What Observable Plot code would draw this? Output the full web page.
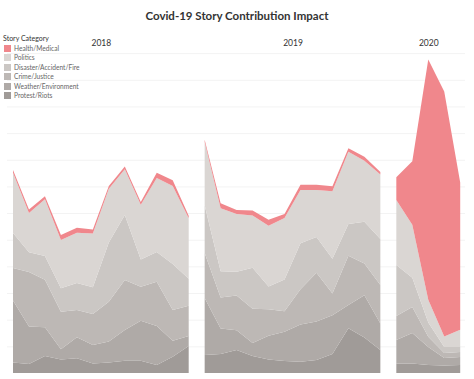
<!DOCTYPE html>
<html>
<head>
<meta charset="utf-8">
<script src="https://cdn.jsdelivr.net/npm/d3@7"></script>
<script src="https://cdn.jsdelivr.net/npm/@observablehq/plot@0.6"></script>
<style>
  body { margin: 0; background: #fff; font-family: Lato, "Open Sans", sans-serif; }
  #wrap { position: relative; width: 474px; height: 379px; overflow: hidden; }
  #chart { position: absolute; left: 0; top: 0; }
  #title { position: absolute; left: 0; width: 474px; top: 9px; text-align: center;
           font-size: 11.5px; font-weight: bold; color: #333; }
  #legend { position: absolute; left: 3px; top: 34px; font-size: 6.6px; color: #666; line-height: 9.5px; }
  #legend .ttl { color: #333; font-size: 7px; }
  #legend .row { display: flex; align-items: center; }
  #legend .sw { width: 7px; height: 7px; margin: 0 3px 0 1px; }
</style>
</head>
<body>
<div id="wrap">
  <div id="chart"></div>
  <div id="title">Covid-19 Story Contribution Impact</div>
  <div id="legend"></div>
</div>
<script>
// ---- data ----
const years = ["2018", "2019", "2020"];
const monthsInYear = [12, 12, 5];
const months = ["Jan","Feb","Mar","Apr","May","Jun","Jul","Aug","Sep","Oct","Nov","Dec"];
// stacking order, bottom to top
const categories = ["Protest/Riots","Weather/Environment","Crime/Justice","Disaster/Accident/Fire","Politics","Health/Medical"];
const colors = ["#a09b98","#afaaa7","#bdb8b5","#cbc7c4","#dad6d3","#f0878c"];
const legendTitle = "Story Category";

const protestRiots = [3.9, 3.4, 6.4, 5.1, 5.5, 3.6, 3.9, 4.6, 4.6, 3.0, 6.1, 10.1,
                      6.8, 7.1, 8.6, 6.4, 5.1, 4.5, 4.2, 4.9, 7.1, 16.8, 13.3, 8.6,
                      3.6, 3.6, 3.0, 2.8, 3.0];
const weatherEnvironment = [23.3, 14.0, 10.8, 3.8, 7.9, 6.9, 7.9, 11.5, 15.0, 14.6, 6.0, 3.8,
                      21.3, 9.6, 7.4, 4.9, 8.9, 11.0, 14.0, 14.4, 14.6, 8.7, 15.9, 10.0,
                      8.8, 11.4, 6.8, 2.8, 3.0];
const crimeJustice = [12.2, 20.5, 17.8, 14.1, 10.2, 11.6, 14.9, 18.8, 12.8, 16.6, 11.5, 11.3,
                      16.9, 11.6, 13.1, 12.8, 9.9, 7.7, 13.2, 18.3, 8.1, 18.5, 11.9, 14.4,
                      9.0, 9.8, 3.8, 1.9, 1.9];
const disasterAccidentFire = [13.1, 7.4, 8.9, 8.8, 10.2, 10.1, 22.3, 24.4, 10.2, 11.2, 17.3, 10.2,
                      17.9, 9.9, 8.9, 15.4, 8.6, 11.9, 17.3, 13.4, 13.1, 11.9, 15.6, 17.3,
                      19.1, 10.9, 5.3, 2.3, 1.9];
const politics = [22.6, 14.7, 21.3, 18.1, 18.8, 20.1, 20.1, 17.1, 20.5, 27.8, 29.3, 22.7,
                      23.8, 23.6, 21.7, 19.6, 22.7, 23.1, 20.0, 17.7, 25.3, 27.1, 22.9, 24.2,
                      24.4, 19.9, 8.6, 3.9, 6.4];
const healthMedical = [1.1, 1.3, 1.1, 1.9, 1.9, 1.5, 1.1, 1.1, 1.1, 1.9, 2.1, 0.9,
                      0.8, 1.9, 1.5, 1.9, 2.3, 1.5, 1.9, 1.9, 1.9, 1.3, 1.5, 0.9,
                      8.5, 23.8, 90.1, 91.9, 55.3];
const gridValues = [10, 20, 30, 40, 50, 60, 70, 80, 90, 100, 110, 120];

// ---- build table ----
const seriesValues = [protestRiots, weatherEnvironment, crimeJustice, disasterAccidentFire, politics, healthMedical];
const periods = [];
years.forEach((y, k) => {
  for (let m = 0; m < monthsInYear[k]; m++) periods.push({year: y, month: months[m], i: periods.length});
});
const data = [];
categories.forEach((c, ci) => {
  seriesValues[ci].forEach((v, j) => data.push({category: c, value: v, ...periods[j]}));
});
const headers = years.map(y => ({year: y, mid: d3.mean(periods.filter(p => p.year === y), p => p.i)}));

const font = "Lato, 'Open Sans', sans-serif";
const chart = Plot.plot({
  width: 474,
  height: 379,
  marginTop: 26.5,
  marginBottom: 6,
  marginLeft: 7,
  marginRight: 9,
  style: {fontFamily: font, background: "transparent"},
  x: {type: "linear", domain: [-0.376, 28.3], axis: null},
  y: {domain: [0, 130], axis: null},
  color: {domain: categories, range: colors},
  marks: [
    Plot.gridY(gridValues, {stroke: "#f3f3f3", strokeOpacity: 1, strokeWidth: 1}),
    ...years.map(y => Plot.areaY(data.filter(d => d.year === y), {
      x: "i", y: "value", fill: "category", z: "category", order: categories, curve: "linear"
    })),
    Plot.text(headers, {x: "mid", text: "year", frameAnchor: "top", dy: 12.5,
      fontSize: 8.5, fill: "#333", fontFamily: font})
  ]
});
document.getElementById("chart").append(chart);

// ---- legend ----
const legend = d3.select("#legend");
legend.append("div").attr("class", "ttl").text(legendTitle);
const legendItems = categories.map((c, i) => ({c, col: colors[i]})).reverse();
const rows = legend.selectAll(".row").data(legendItems).join("div").attr("class", "row");
rows.append("div").attr("class", "sw").style("background", d => d.col);
rows.append("span").text(d => d.c);
</script>
</body>
</html>
